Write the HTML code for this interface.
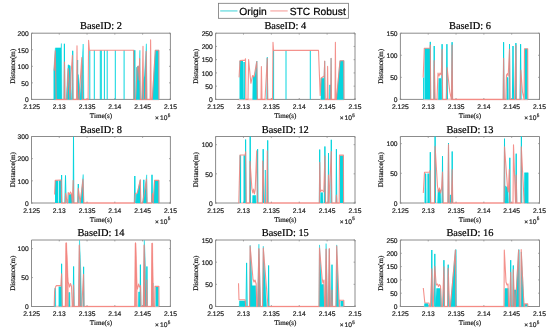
<!DOCTYPE html>
<html><head><meta charset="utf-8"><style>
html,body{margin:0;padding:0;background:#fff;width:550px;height:333px;overflow:hidden}
svg{display:block;text-rendering:geometricPrecision}
.tl{font-family:"Liberation Sans",Arial,sans-serif;font-size:6.7px;fill:#1a1a1a;stroke:#1a1a1a;stroke-width:0.2px}
.sup{font-size:5px}
.lb{font-family:"Liberation Serif","Times New Roman",serif;font-size:7.1px;fill:#1a1a1a;stroke:#1a1a1a;stroke-width:0.2px}
.tt{font-family:"Liberation Serif","Times New Roman",serif;font-size:10.4px;fill:#000;stroke:#000;stroke-width:0.2px}
.lg{font-family:"Liberation Sans",Arial,sans-serif;font-size:10.3px;fill:#000;stroke:#000;stroke-width:0.2px}
</style></head><body>
<svg width="550" height="333" viewBox="0 0 550 333">
<path d="M31.5,99.4V33.2H170.4V99.4M31.5,99.4H54.1M88.6,99.4H133.6M159,99.4H170.4" fill="none" stroke="#8c8c8c" stroke-width="1.0" stroke-linecap="square"/>
<path d="M54.1,99.4H88.6" stroke="#f2837d" stroke-opacity="0.5" stroke-width="1.7"/>
<path d="M133.6,99.4H159" stroke="#f2837d" stroke-opacity="0.5" stroke-width="1.7"/>
<text x="28.7" y="102.2" class="tl" text-anchor="end">0</text>
<text x="28.7" y="85.65" class="tl" text-anchor="end">50</text>
<text x="28.7" y="69.1" class="tl" text-anchor="end">100</text>
<text x="28.7" y="52.55" class="tl" text-anchor="end">150</text>
<text x="28.7" y="36" class="tl" text-anchor="end">200</text>
<path d="M31.5,99.4v-1.4M31.5,33.2v1.4M59.28,99.4v-1.4M59.28,33.2v1.4M87.06,99.4v-1.4M87.06,33.2v1.4M114.84,99.4v-1.4M114.84,33.2v1.4M142.62,99.4v-1.4M142.62,33.2v1.4M170.4,99.4v-1.4M170.4,33.2v1.4M31.5,99.4h1.4M170.4,99.4h-1.4M31.5,82.85h1.4M170.4,82.85h-1.4M31.5,66.3h1.4M170.4,66.3h-1.4M31.5,49.75h1.4M170.4,49.75h-1.4M31.5,33.2h1.4M170.4,33.2h-1.4" stroke="#8c8c8c" stroke-width="0.8" fill="none"/>
<polygon points="53.8,99.5 53.8,70.6 55.4,47.9 61.2,47.9 61.4,43.5 61.9,99.5" fill="#06d5de" stroke="#06d5de" stroke-width="0.5" opacity="1"/>
<polyline points="64.05,99.4 64.4,43.8 64.75,99.4" fill="none" stroke="#06d5de" stroke-width="1.0" stroke-linejoin="round"/>
<polygon points="66.3,99.5 68.1,64.8 70.2,65.8 71.5,99.5" fill="#06d5de" stroke="#06d5de" stroke-width="0.5" opacity="1"/>
<polygon points="77.3,99.5 78.2,74.5 80.8,99.5" fill="#06d5de" stroke="#06d5de" stroke-width="0.5" opacity="1"/>
<polyline points="72.35,99.4 72.7,50.8 73.05,99.4" fill="none" stroke="#06d5de" stroke-width="1.0" stroke-linejoin="round"/>
<polyline points="77.25,99.4 77.6,60 77.95,99.4" fill="none" stroke="#06d5de" stroke-width="1.0" stroke-linejoin="round"/>
<polygon points="80.2,99.5 83.2,44 83.9,99.5" fill="#06d5de" stroke="#06d5de" stroke-width="0.5" opacity="1"/>
<path d="M89.8,99.4V50.3M94.3,99.4V50.3M100.3,99.4V50.3M101.3,99.4V50.3M104.4,99.4V50.3M107.2,99.4V50.3M115.3,99.4V50.3M124.1,99.4V50.3" stroke="#06d5de" stroke-width="1.0" fill="none"/>
<polygon points="133.6,99.5 133.6,50.4 135.2,50.4 135.2,99.5" fill="#06d5de" stroke="#06d5de" stroke-width="0.5" opacity="1"/>
<polygon points="136,99.5 136.5,67.5 138,66 139.5,67 139.9,50.3 140.3,99.5" fill="#06d5de" stroke="#06d5de" stroke-width="0.5" opacity="1"/>
<polygon points="141.8,99.5 142.5,85 143.5,80 144.5,75 146.4,43.8 146.9,99.5" fill="#06d5de" stroke="#06d5de" stroke-width="0.5" opacity="1"/>
<polygon points="152.3,99.5 155.3,50.3 158.8,50.3 158.8,99.5" fill="#06d5de" stroke="#06d5de" stroke-width="0.5" opacity="1"/>
<polyline points="54.2,70.6 55.3,50.8 56.2,99.5 64.1,99.5 64.5,62 65,99.5 67,99.5 68.2,68.5 70,99.5 71.2,72 72.4,55.4 72.9,99.5 76.5,99.5 77,45.8 77.6,99.5 79,99.5 80.3,80 81.8,57.6 82.3,99.5 88.1,99.5 88.6,40.2 89.4,50.3 133.6,50.3 133.9,99.5 135.5,99.5 137.2,69 138.2,66 139.2,80 139.6,58.5 140.3,99.5 142,99.5 143,46.3 143.6,99.5 145.5,99.5 146.2,51.3 146.8,99.5 150.1,99.5 150.6,39.9 151.2,99.5 152.3,99.5 155.3,50.2 158.8,50.2 159,99.5" fill="none" stroke="#f2837d" stroke-width="1.1" stroke-linejoin="round" stroke-opacity="0.88"/>
<text x="31.5" y="109" class="tl" text-anchor="middle">2.125</text>
<text x="59.28" y="109" class="tl" text-anchor="middle">2.13</text>
<text x="87.06" y="109" class="tl" text-anchor="middle">2.135</text>
<text x="114.84" y="109" class="tl" text-anchor="middle">2.14</text>
<text x="142.62" y="109" class="tl" text-anchor="middle">2.145</text>
<text x="170.4" y="109" class="tl" text-anchor="middle">2.15</text>
<text x="100.95" y="118" class="lb" text-anchor="middle">Time(s)</text>
<text x="155.1" y="120.2" class="tl" style="font-size:6.5px">×</text>
<text x="160" y="119.9" class="tl">10</text>
<text x="167.7" y="116.7" class="tl" style="font-size:4.6px">5</text>
<text x="100.95" y="29.4" class="tt" text-anchor="middle">BaseID: 2</text>
<text transform="translate(14.9,66.3) rotate(-90)" class="lb" text-anchor="middle">Distance(m)</text>
<path d="M215.6,99.4V33.2H355V99.4M215.6,99.4H238.6M272.8,99.4H320M344,99.4H355" fill="none" stroke="#8c8c8c" stroke-width="1.0" stroke-linecap="square"/>
<path d="M238.6,99.4H272.8" stroke="#f2837d" stroke-opacity="0.5" stroke-width="1.7"/>
<path d="M320,99.4H344" stroke="#f2837d" stroke-opacity="0.5" stroke-width="1.7"/>
<text x="212.8" y="102.2" class="tl" text-anchor="end">0</text>
<text x="212.8" y="88.96" class="tl" text-anchor="end">50</text>
<text x="212.8" y="75.72" class="tl" text-anchor="end">100</text>
<text x="212.8" y="62.48" class="tl" text-anchor="end">150</text>
<text x="212.8" y="49.24" class="tl" text-anchor="end">200</text>
<text x="212.8" y="36" class="tl" text-anchor="end">250</text>
<path d="M215.6,99.4v-1.4M215.6,33.2v1.4M243.48,99.4v-1.4M243.48,33.2v1.4M271.36,99.4v-1.4M271.36,33.2v1.4M299.24,99.4v-1.4M299.24,33.2v1.4M327.12,99.4v-1.4M327.12,33.2v1.4M355,99.4v-1.4M355,33.2v1.4M215.6,99.4h1.4M355,99.4h-1.4M215.6,86.16h1.4M355,86.16h-1.4M215.6,72.92h1.4M355,72.92h-1.4M215.6,59.68h1.4M355,59.68h-1.4M215.6,46.44h1.4M355,46.44h-1.4M215.6,33.2h1.4M355,33.2h-1.4" stroke="#8c8c8c" stroke-width="0.8" fill="none"/>
<rect x="239.5" y="61" width="3.5" height="38.4" fill="#06d5de"/>
<polyline points="243.75,99.4 244.1,62 244.45,99.4" fill="none" stroke="#06d5de" stroke-width="1.0" stroke-linejoin="round"/>
<polygon points="252.7,99.5 253,77 255,76 256.5,62 257,61 257.4,99.5" fill="#06d5de" stroke="#06d5de" stroke-width="0.5" opacity="1"/>
<polyline points="266.95,99.4 267.3,57.4 267.65,99.4" fill="none" stroke="#06d5de" stroke-width="1.0" stroke-linejoin="round"/>
<path d="M273.6,99.4V50.4M286,99.4V50.4M310.3,99.4V50.4" stroke="#06d5de" stroke-width="1.0" fill="none"/>
<polygon points="321,99.5 321,78.2 324,78.2 324.7,61.1 325.1,99.5" fill="#06d5de" stroke="#06d5de" stroke-width="0.5" opacity="1"/>
<polygon points="329.3,99.5 329.5,85 330.9,85 331.1,58.2 331.4,99.5" fill="#06d5de" stroke="#06d5de" stroke-width="0.5" opacity="1"/>
<polygon points="336.5,99.5 340,60.9 343.8,60.7 343.8,99.5" fill="#06d5de" stroke="#06d5de" stroke-width="0.5" opacity="1"/>
<polyline points="239.1,77.4 240,60.5 245,60.1 245.5,58.7 245.9,99.5 248,99.5 248.6,59.6 250.9,83.3 252.6,75.5 254,77 256.8,61.5 257.3,99.5 261,99.5 261.4,66.5 262,99.5 265,99.5 267.3,58.3 267.7,99.5 272.5,99.5 273,42.2 273.5,50.4 318.5,50.4 320.2,95.5 321.2,78 324.2,76 324.7,61.1 325.2,99.5 327.2,99.5 327.6,66.4 328,99.5 330.7,99.5 331.1,58.2 331.5,99.5 335,99.5 335.4,42.3 335.8,99.5 336.4,99.5 340,60.7 343.8,60.7 344,99.5" fill="none" stroke="#f2837d" stroke-width="1.1" stroke-linejoin="round" stroke-opacity="0.88"/>
<text x="215.6" y="109" class="tl" text-anchor="middle">2.125</text>
<text x="243.48" y="109" class="tl" text-anchor="middle">2.13</text>
<text x="271.36" y="109" class="tl" text-anchor="middle">2.135</text>
<text x="299.24" y="109" class="tl" text-anchor="middle">2.14</text>
<text x="327.12" y="109" class="tl" text-anchor="middle">2.145</text>
<text x="355" y="109" class="tl" text-anchor="middle">2.15</text>
<text x="285.3" y="118" class="lb" text-anchor="middle">Time(s)</text>
<text x="339.7" y="120.2" class="tl" style="font-size:6.5px">×</text>
<text x="344.6" y="119.9" class="tl">10</text>
<text x="352.3" y="116.7" class="tl" style="font-size:4.6px">5</text>
<text x="285.3" y="29.4" class="tt" text-anchor="middle">BaseID: 4</text>
<text transform="translate(198.3,66.3) rotate(-90)" class="lb" text-anchor="middle">Distance(m)</text>
<path d="M400.4,99.4V33.2H539.5V99.4M400.4,99.4H423M528,99.4H539.5" fill="none" stroke="#8c8c8c" stroke-width="1.0" stroke-linecap="square"/>
<path d="M423,99.4H528" stroke="#f2837d" stroke-opacity="0.5" stroke-width="1.7"/>
<text x="397.6" y="102.2" class="tl" text-anchor="end">0</text>
<text x="397.6" y="80.13" class="tl" text-anchor="end">50</text>
<text x="397.6" y="58.07" class="tl" text-anchor="end">100</text>
<text x="397.6" y="36" class="tl" text-anchor="end">150</text>
<path d="M400.4,99.4v-1.4M400.4,33.2v1.4M428.22,99.4v-1.4M428.22,33.2v1.4M456.04,99.4v-1.4M456.04,33.2v1.4M483.86,99.4v-1.4M483.86,33.2v1.4M511.68,99.4v-1.4M511.68,33.2v1.4M539.5,99.4v-1.4M539.5,33.2v1.4M400.4,99.4h1.4M539.5,99.4h-1.4M400.4,77.33h1.4M539.5,77.33h-1.4M400.4,55.27h1.4M539.5,55.27h-1.4M400.4,33.2h1.4M539.5,33.2h-1.4" stroke="#8c8c8c" stroke-width="0.8" fill="none"/>
<rect x="424.5" y="48.3" width="5.5" height="51.1" fill="#06d5de"/>
<path d="M423.6,99.4V77.5" stroke="#06d5de" stroke-width="1.0" fill="none"/>
<polyline points="429.95,99.4 430.3,41.9 430.65,99.4" fill="none" stroke="#06d5de" stroke-width="1.0" stroke-linejoin="round"/>
<polyline points="433.85,99.4 434.2,46 434.55,99.4" fill="none" stroke="#06d5de" stroke-width="1.0" stroke-linejoin="round"/>
<polygon points="438.4,99.5 438.8,78.4 441,78.4 441.3,99.5" fill="#06d5de" stroke="#06d5de" stroke-width="0.5" opacity="1"/>
<polyline points="441.75,99.4 442.1,44.2 442.45,99.4" fill="none" stroke="#06d5de" stroke-width="1.0" stroke-linejoin="round"/>
<polyline points="446.3,99.4 446.9,44.2 447.5,99.4" fill="none" stroke="#06d5de" stroke-width="1.0" stroke-linejoin="round"/>
<polyline points="451.75,99.4 452.1,42.2 452.45,99.4" fill="none" stroke="#06d5de" stroke-width="1.0" stroke-linejoin="round"/>
<polyline points="503.25,99.4 503.6,42.2 503.95,99.4" fill="none" stroke="#06d5de" stroke-width="1.0" stroke-linejoin="round"/>
<polygon points="506.8,99.5 507,77.5 508,77.5 508.2,99.5" fill="#06d5de" stroke="#06d5de" stroke-width="0.5" opacity="1"/>
<polyline points="509.15,99.4 509.5,44 509.85,99.4" fill="none" stroke="#06d5de" stroke-width="1.0" stroke-linejoin="round"/>
<polyline points="512.4,99.4 513,46 513.6,99.4" fill="none" stroke="#06d5de" stroke-width="1.0" stroke-linejoin="round"/>
<polyline points="515.55,99.4 515.9,43.1 516.25,99.4" fill="none" stroke="#06d5de" stroke-width="1.0" stroke-linejoin="round"/>
<polyline points="520.1,99.4 520.6,44.2 521.1,99.4" fill="none" stroke="#06d5de" stroke-width="1.0" stroke-linejoin="round"/>
<rect x="524.6" y="48.7" width="3.1" height="50.7" fill="#06d5de"/>
<polyline points="423.2,77.5 424.3,48.3 430,48.3 430.3,45.1 430.7,99.5 433.8,99.5 434.2,60.5 435.2,99.5 437,99.5 438,73 439,76 440,73 441.3,75 442.1,49.2 442.6,99.5 446.4,99.5 447.1,67.5 449.8,92 451.4,99.5 452.1,45.1 452.6,99.5 503.2,99.5 503.6,58.3 504.2,99.5 505.8,99.5 506.5,75 507.5,73.5 508.2,76 509.5,49.2 510,99.5 514.6,99.5 515.9,45.5 516.4,99.5 520.2,99.5 520.8,70 522.5,92 524.1,99.5 524.5,48.7 527.7,48.7 527.9,99.5" fill="none" stroke="#f2837d" stroke-width="1.1" stroke-linejoin="round" stroke-opacity="0.88"/>
<text x="400.4" y="109" class="tl" text-anchor="middle">2.125</text>
<text x="428.22" y="109" class="tl" text-anchor="middle">2.13</text>
<text x="456.04" y="109" class="tl" text-anchor="middle">2.135</text>
<text x="483.86" y="109" class="tl" text-anchor="middle">2.14</text>
<text x="511.68" y="109" class="tl" text-anchor="middle">2.145</text>
<text x="539.5" y="109" class="tl" text-anchor="middle">2.15</text>
<text x="469.95" y="118" class="lb" text-anchor="middle">Time(s)</text>
<text x="524.2" y="120.2" class="tl" style="font-size:6.5px">×</text>
<text x="529.1" y="119.9" class="tl">10</text>
<text x="536.8" y="116.7" class="tl" style="font-size:4.6px">5</text>
<text x="469.95" y="29.4" class="tt" text-anchor="middle">BaseID: 6</text>
<text transform="translate(383.1,66.3) rotate(-90)" class="lb" text-anchor="middle">Distance(m)</text>
<path d="M31.5,203V136.5H170.4V203M31.5,203H54.3M159,203H170.4" fill="none" stroke="#8c8c8c" stroke-width="1.0" stroke-linecap="square"/>
<path d="M54.3,203H159" stroke="#f2837d" stroke-opacity="0.5" stroke-width="1.7"/>
<text x="28.7" y="205.8" class="tl" text-anchor="end">0</text>
<text x="28.7" y="183.63" class="tl" text-anchor="end">100</text>
<text x="28.7" y="161.47" class="tl" text-anchor="end">200</text>
<text x="28.7" y="139.3" class="tl" text-anchor="end">300</text>
<path d="M31.5,203v-1.4M31.5,136.5v1.4M59.28,203v-1.4M59.28,136.5v1.4M87.06,203v-1.4M87.06,136.5v1.4M114.84,203v-1.4M114.84,136.5v1.4M142.62,203v-1.4M142.62,136.5v1.4M170.4,203v-1.4M170.4,136.5v1.4M31.5,203h1.4M170.4,203h-1.4M31.5,180.83h1.4M170.4,180.83h-1.4M31.5,158.67h1.4M170.4,158.67h-1.4M31.5,136.5h1.4M170.4,136.5h-1.4" stroke="#8c8c8c" stroke-width="0.8" fill="none"/>
<rect x="55" y="180.5" width="3.2" height="22.5" fill="#06d5de"/>
<rect x="58.9" y="180.5" width="2.3" height="22.5" fill="#06d5de"/>
<polyline points="61.25,203 61.6,175 61.95,203" fill="none" stroke="#06d5de" stroke-width="1.0" stroke-linejoin="round"/>
<polyline points="64.9,203 65.5,175.5 66.1,203" fill="none" stroke="#06d5de" stroke-width="1.0" stroke-linejoin="round"/>
<polygon points="68.5,203 68.7,194.5 72,194.5 72.2,203" fill="#06d5de" stroke="#06d5de" stroke-width="0.5" opacity="1"/>
<polyline points="73.15,203 73.5,136.8 73.85,203" fill="none" stroke="#06d5de" stroke-width="1.0" stroke-linejoin="round"/>
<polyline points="77.7,203 78.3,184 78.9,203" fill="none" stroke="#06d5de" stroke-width="1.0" stroke-linejoin="round"/>
<polygon points="80.4,203 83.2,174.5 83.8,203" fill="#06d5de" stroke="#06d5de" stroke-width="0.5" opacity="1"/>
<polyline points="134.3,203 134.8,176 135.3,203" fill="none" stroke="#06d5de" stroke-width="1.0" stroke-linejoin="round"/>
<polygon points="136,203 136.2,194.5 137.3,193.5 140.3,179.8 140.7,203" fill="#06d5de" stroke="#06d5de" stroke-width="0.5" opacity="1"/>
<polyline points="143.3,203 143.8,179.8 144.3,203" fill="none" stroke="#06d5de" stroke-width="1.0" stroke-linejoin="round"/>
<polygon points="143.6,203 146.7,174.8 147.2,203" fill="#06d5de" stroke="#06d5de" stroke-width="0.5" opacity="1"/>
<polyline points="151.5,203 152,174.8 152.5,203" fill="none" stroke="#06d5de" stroke-width="1.0" stroke-linejoin="round"/>
<polygon points="153.4,203 154.6,180.4 158.8,180.4 158.8,203" fill="#06d5de" stroke="#06d5de" stroke-width="0.5" opacity="1"/>
<polyline points="54.6,194.5 55.2,180.4 61.2,180 61.6,203 65.3,203 65.6,193.3 67.2,203 67.6,203 68.2,192.5 69.5,194.5 70.5,192 71.4,193.5 72.2,203 73.2,180.4 73.7,203 77.8,203 78.3,188.4 80.2,203 83,179.2 83.7,203 134.5,203 135.3,193.5 137.3,193 140.3,179.8 140.8,203 142.6,203 146.5,179.2 147,203 151.6,203 152.4,193.3 153.2,203 154.6,180.4 158.8,180.4 159,203" fill="none" stroke="#f2837d" stroke-width="1.1" stroke-linejoin="round" stroke-opacity="0.88"/>
<text x="31.5" y="212.6" class="tl" text-anchor="middle">2.125</text>
<text x="59.28" y="212.6" class="tl" text-anchor="middle">2.13</text>
<text x="87.06" y="212.6" class="tl" text-anchor="middle">2.135</text>
<text x="114.84" y="212.6" class="tl" text-anchor="middle">2.14</text>
<text x="142.62" y="212.6" class="tl" text-anchor="middle">2.145</text>
<text x="170.4" y="212.6" class="tl" text-anchor="middle">2.15</text>
<text x="100.95" y="221.6" class="lb" text-anchor="middle">Time(s)</text>
<text x="155.1" y="223.8" class="tl" style="font-size:6.5px">×</text>
<text x="160" y="223.5" class="tl">10</text>
<text x="167.7" y="220.3" class="tl" style="font-size:4.6px">5</text>
<text x="100.95" y="132.7" class="tt" text-anchor="middle">BaseID: 8</text>
<text transform="translate(14.9,169.75) rotate(-90)" class="lb" text-anchor="middle">Distance(m)</text>
<path d="M215.6,203V136.5H355V203M215.6,203H238.8M343.6,203H355" fill="none" stroke="#8c8c8c" stroke-width="1.0" stroke-linecap="square"/>
<path d="M238.8,203H343.6" stroke="#f2837d" stroke-opacity="0.5" stroke-width="1.7"/>
<text x="212.8" y="205.8" class="tl" text-anchor="end">0</text>
<text x="212.8" y="176.63" class="tl" text-anchor="end">50</text>
<text x="212.8" y="147.47" class="tl" text-anchor="end">100</text>
<path d="M215.6,203v-1.4M215.6,136.5v1.4M243.48,203v-1.4M243.48,136.5v1.4M271.36,203v-1.4M271.36,136.5v1.4M299.24,203v-1.4M299.24,136.5v1.4M327.12,203v-1.4M327.12,136.5v1.4M355,203v-1.4M355,136.5v1.4M215.6,203h1.4M355,203h-1.4M215.6,173.83h1.4M355,173.83h-1.4M215.6,144.67h1.4M355,144.67h-1.4" stroke="#8c8c8c" stroke-width="0.8" fill="none"/>
<rect x="239.6" y="155.3" width="1.5" height="47.7" fill="#06d5de"/>
<rect x="243.5" y="155.3" width="1.7" height="47.7" fill="#06d5de"/>
<polyline points="245.25,203 245.6,139.6 245.95,203" fill="none" stroke="#06d5de" stroke-width="1.0" stroke-linejoin="round"/>
<polyline points="249.85,203 250.2,136.6 250.55,203" fill="none" stroke="#06d5de" stroke-width="1.0" stroke-linejoin="round"/>
<polygon points="252.5,203 252.7,195.5 255.8,195.5 256,203" fill="#06d5de" stroke="#06d5de" stroke-width="0.5" opacity="1"/>
<polyline points="257.25,203 257.6,149.2 257.95,203" fill="none" stroke="#06d5de" stroke-width="1.0" stroke-linejoin="round"/>
<polyline points="262.85,203 263.2,149.2 263.55,203" fill="none" stroke="#06d5de" stroke-width="1.0" stroke-linejoin="round"/>
<path d="M265.3,203V170" stroke="#06d5de" stroke-width="1.0" fill="none"/>
<polyline points="267.35,203 267.7,140.4 268.05,203" fill="none" stroke="#06d5de" stroke-width="1.0" stroke-linejoin="round"/>
<polyline points="319.35,203 319.7,149.6 320.05,203" fill="none" stroke="#06d5de" stroke-width="1.0" stroke-linejoin="round"/>
<polygon points="320.8,203 321,192.7 322.8,192.7 323,203" fill="#06d5de" stroke="#06d5de" stroke-width="0.5" opacity="1"/>
<polyline points="324.55,203 324.9,146.5 325.25,203" fill="none" stroke="#06d5de" stroke-width="1.0" stroke-linejoin="round"/>
<polyline points="328.15,203 328.5,153.1 328.85,203" fill="none" stroke="#06d5de" stroke-width="1.0" stroke-linejoin="round"/>
<polyline points="330.95,203 331.3,139.8 331.65,203" fill="none" stroke="#06d5de" stroke-width="1.0" stroke-linejoin="round"/>
<polyline points="336.05,203 336.4,149.2 336.75,203" fill="none" stroke="#06d5de" stroke-width="1.0" stroke-linejoin="round"/>
<rect x="340" y="155.6" width="3.5" height="47.4" fill="#06d5de"/>
<polyline points="238.8,203 240,155 245.2,155 245.6,151.8 246.2,203 249.7,203 250,161.3 251.9,188.6 252.8,193 253.6,189 254.4,194 255.2,190 256.7,150.7 257.4,203 262.4,203 262.8,161 264.6,203 266.8,203 267.3,150.7 267.8,203 319.4,203 319.7,162.4 320.4,191.6 322,190 323.8,192 324.9,156 325.4,203 328.1,203 328.5,175 329,203 331.3,151.5 331.8,203 336,203 336.4,195 337,203 339.2,203 339.5,155.1 343.4,155.1 343.6,203" fill="none" stroke="#f2837d" stroke-width="1.1" stroke-linejoin="round" stroke-opacity="0.88"/>
<text x="215.6" y="212.6" class="tl" text-anchor="middle">2.125</text>
<text x="243.48" y="212.6" class="tl" text-anchor="middle">2.13</text>
<text x="271.36" y="212.6" class="tl" text-anchor="middle">2.135</text>
<text x="299.24" y="212.6" class="tl" text-anchor="middle">2.14</text>
<text x="327.12" y="212.6" class="tl" text-anchor="middle">2.145</text>
<text x="355" y="212.6" class="tl" text-anchor="middle">2.15</text>
<text x="285.3" y="221.6" class="lb" text-anchor="middle">Time(s)</text>
<text x="339.7" y="223.8" class="tl" style="font-size:6.5px">×</text>
<text x="344.6" y="223.5" class="tl">10</text>
<text x="352.3" y="220.3" class="tl" style="font-size:4.6px">5</text>
<text x="285.3" y="132.7" class="tt" text-anchor="middle">BaseID: 12</text>
<text transform="translate(198.3,169.75) rotate(-90)" class="lb" text-anchor="middle">Distance(m)</text>
<path d="M400.4,203V136.5H539.5V203M400.4,203H423.3M527.9,203H539.5" fill="none" stroke="#8c8c8c" stroke-width="1.0" stroke-linecap="square"/>
<path d="M423.3,203H527.9" stroke="#f2837d" stroke-opacity="0.5" stroke-width="1.7"/>
<text x="397.6" y="205.8" class="tl" text-anchor="end">0</text>
<text x="397.6" y="176.11" class="tl" text-anchor="end">50</text>
<text x="397.6" y="146.43" class="tl" text-anchor="end">100</text>
<path d="M400.4,203v-1.4M400.4,136.5v1.4M428.22,203v-1.4M428.22,136.5v1.4M456.04,203v-1.4M456.04,136.5v1.4M483.86,203v-1.4M483.86,136.5v1.4M511.68,203v-1.4M511.68,136.5v1.4M539.5,203v-1.4M539.5,136.5v1.4M400.4,203h1.4M539.5,203h-1.4M400.4,173.31h1.4M539.5,173.31h-1.4M400.4,143.62h1.4M539.5,143.62h-1.4" stroke="#8c8c8c" stroke-width="0.8" fill="none"/>
<polygon points="424.8,203 425,173.8 426,173.8 426.2,203" fill="#06d5de" stroke="#06d5de" stroke-width="0.5" opacity="1"/>
<rect x="427.4" y="173.5" width="2.2" height="29.5" fill="#06d5de"/>
<polyline points="429.95,203 430.3,152.2 430.65,203" fill="none" stroke="#06d5de" stroke-width="1.0" stroke-linejoin="round"/>
<polyline points="434.6,203 435.1,136.6 435.6,203" fill="none" stroke="#06d5de" stroke-width="1.0" stroke-linejoin="round"/>
<polygon points="437.6,203 438,190 440.5,190 441,203" fill="#06d5de" stroke="#06d5de" stroke-width="0.5" opacity="1"/>
<polyline points="442.15,203 442.5,156.2 442.85,203" fill="none" stroke="#06d5de" stroke-width="1.0" stroke-linejoin="round"/>
<polyline points="448.15,203 448.5,143.1 448.85,203" fill="none" stroke="#06d5de" stroke-width="1.0" stroke-linejoin="round"/>
<polygon points="450,203 450.2,195 451.6,195 451.8,203" fill="#06d5de" stroke="#06d5de" stroke-width="0.5" opacity="1"/>
<polyline points="451.85,203 452.2,151.5 452.55,203" fill="none" stroke="#06d5de" stroke-width="1.0" stroke-linejoin="round"/>
<polyline points="504.15,203 504.5,138.7 504.85,203" fill="none" stroke="#06d5de" stroke-width="1.0" stroke-linejoin="round"/>
<polygon points="505,203 505.3,186 508,188 508.4,203" fill="#06d5de" stroke="#06d5de" stroke-width="0.5" opacity="1"/>
<polyline points="509.45,203 509.8,157.8 510.15,203" fill="none" stroke="#06d5de" stroke-width="1.0" stroke-linejoin="round"/>
<polyline points="515.7,203 516.2,153.7 516.7,203" fill="none" stroke="#06d5de" stroke-width="1.0" stroke-linejoin="round"/>
<polyline points="521.05,203 521.4,136.6 521.75,203" fill="none" stroke="#06d5de" stroke-width="1.0" stroke-linejoin="round"/>
<polygon points="524.2,203 524.5,172.8 528.2,172.8 528.2,203" fill="#06d5de" stroke="#06d5de" stroke-width="0.5" opacity="1"/>
<polyline points="423.3,193 424.5,172.3 429.5,172.3 430,170.5 430.6,203 434.5,203 435.1,146.2 437.5,186.5 438.5,192 439.5,188 440.5,193 441.5,189 442.5,172 443.2,203 447.8,203 448.5,144.6 449.2,203 451.4,203 452.2,169.5 452.8,203 504.1,203 504.5,146.9 507.6,188.6 508.3,192 509.3,169.5 509.8,203 513,203 513.5,144.8 515,188 515.5,203 515.8,203 516.2,175 516.8,203 520.8,203 521.3,146.7 524.2,203" fill="none" stroke="#f2837d" stroke-width="1.1" stroke-linejoin="round" stroke-opacity="0.88"/>
<text x="400.4" y="212.6" class="tl" text-anchor="middle">2.125</text>
<text x="428.22" y="212.6" class="tl" text-anchor="middle">2.13</text>
<text x="456.04" y="212.6" class="tl" text-anchor="middle">2.135</text>
<text x="483.86" y="212.6" class="tl" text-anchor="middle">2.14</text>
<text x="511.68" y="212.6" class="tl" text-anchor="middle">2.145</text>
<text x="539.5" y="212.6" class="tl" text-anchor="middle">2.15</text>
<text x="469.95" y="221.6" class="lb" text-anchor="middle">Time(s)</text>
<text x="524.2" y="223.8" class="tl" style="font-size:6.5px">×</text>
<text x="529.1" y="223.5" class="tl">10</text>
<text x="536.8" y="220.3" class="tl" style="font-size:4.6px">5</text>
<text x="469.95" y="132.7" class="tt" text-anchor="middle">BaseID: 13</text>
<text transform="translate(383.1,169.75) rotate(-90)" class="lb" text-anchor="middle">Distance(m)</text>
<path d="M31.5,306.5V240H170.4V306.5M31.5,306.5H54.2M159.2,306.5H170.4" fill="none" stroke="#8c8c8c" stroke-width="1.0" stroke-linecap="square"/>
<path d="M54.2,306.5H159.2" stroke="#f2837d" stroke-opacity="0.5" stroke-width="1.7"/>
<text x="28.7" y="309.3" class="tl" text-anchor="end">0</text>
<text x="28.7" y="280.39" class="tl" text-anchor="end">50</text>
<text x="28.7" y="251.47" class="tl" text-anchor="end">100</text>
<path d="M31.5,306.5v-1.4M31.5,240v1.4M59.28,306.5v-1.4M59.28,240v1.4M87.06,306.5v-1.4M87.06,240v1.4M114.84,306.5v-1.4M114.84,240v1.4M142.62,306.5v-1.4M142.62,240v1.4M170.4,306.5v-1.4M170.4,240v1.4M31.5,306.5h1.4M170.4,306.5h-1.4M31.5,277.59h1.4M170.4,277.59h-1.4M31.5,248.67h1.4M170.4,248.67h-1.4" stroke="#8c8c8c" stroke-width="0.8" fill="none"/>
<polygon points="54.6,306.5 54.8,288.3 55.5,288.3 55.7,306.5" fill="#06d5de" stroke="#06d5de" stroke-width="0.5" opacity="1"/>
<rect x="58.6" y="286.5" width="2.6" height="20" fill="#06d5de"/>
<polyline points="61.25,306.5 61.6,263.8 61.95,306.5" fill="none" stroke="#06d5de" stroke-width="1.0" stroke-linejoin="round"/>
<polygon points="68.6,306.5 68.8,292.5 69.8,292.5 70,306.5" fill="#06d5de" stroke="#06d5de" stroke-width="0.5" opacity="1"/>
<polyline points="73.1,306.5 73.6,266.5 74.1,306.5" fill="none" stroke="#06d5de" stroke-width="1.0" stroke-linejoin="round"/>
<polygon points="78.4,306.5 79.5,240.3 80.2,255 81.6,306.5" fill="#06d5de" stroke="#06d5de" stroke-width="0.5" opacity="1"/>
<polyline points="83.25,306.5 83.6,266.8 83.95,306.5" fill="none" stroke="#06d5de" stroke-width="1.0" stroke-linejoin="round"/>
<polygon points="138.2,306.5 138.6,292 139.8,292 140,306.5" fill="#06d5de" stroke="#06d5de" stroke-width="0.5" opacity="1"/>
<polyline points="140.05,306.5 140.4,264.7 140.75,306.5" fill="none" stroke="#06d5de" stroke-width="1.0" stroke-linejoin="round"/>
<polygon points="143.2,306.5 144.3,240.3 145,255 146.4,306.5" fill="#06d5de" stroke="#06d5de" stroke-width="0.5" opacity="1"/>
<polyline points="146.55,306.5 146.9,266.5 147.25,306.5" fill="none" stroke="#06d5de" stroke-width="1.0" stroke-linejoin="round"/>
<path d="M152.9,306.5V283" stroke="#06d5de" stroke-width="1.0" fill="none"/>
<rect x="155.5" y="286.8" width="3.1" height="19.7" fill="#06d5de"/>
<polygon points="65.4,306.5 65.8,243 66.6,243 68.3,282 68.3,306.5" fill="#f2837d" stroke="#f2837d" stroke-width="0.5" opacity="0.8"/>
<polygon points="78.9,306.5 79.3,245.5 80.8,270 81,306.5" fill="#f2837d" stroke="#f2837d" stroke-width="0.5" opacity="0.45"/>
<polygon points="134.8,306.5 135.2,243.2 135.9,243.2 137.2,284 137.2,306.5" fill="#f2837d" stroke="#f2837d" stroke-width="0.5" opacity="0.8"/>
<polygon points="143.9,306.5 144.2,245.5 145.4,268 145.6,306.5" fill="#f2837d" stroke="#f2837d" stroke-width="0.5" opacity="0.45"/>
<polygon points="151.3,306.5 151.8,243.2 152.6,243.2 153.4,306.5" fill="#f2837d" stroke="#f2837d" stroke-width="0.5" opacity="0.8"/>
<polyline points="54.2,306.5 54.6,292 55.5,287 56.4,285.6 60.9,285.6 61.6,273.8 62.3,306.5 65.4,306.5 66.2,242.7 67.7,282 68.6,283.4 69.5,287 70.5,283.5 71.5,286.5 72.3,306.5 73.2,306.5 73.5,285 74,306.5 78.6,306.5 79.3,245 79.7,306.5 81.8,306.5 83.5,274.3 84,306.5 134.8,306.5 135.5,242.9 136.5,285 137.5,289 138.5,284 139.5,287 140.5,285.6 141,306.5 143.4,306.5 144.1,245 144.5,306.5 146.3,306.5 146.8,280 147.2,306.5 151.5,306.5 152.1,243.2 153.3,306.5 154.6,306.5 155,286.4 158.9,286.4 159.1,306.5" fill="none" stroke="#f2837d" stroke-width="1.1" stroke-linejoin="round" stroke-opacity="0.88"/>
<text x="31.5" y="316.1" class="tl" text-anchor="middle">2.125</text>
<text x="59.28" y="316.1" class="tl" text-anchor="middle">2.13</text>
<text x="87.06" y="316.1" class="tl" text-anchor="middle">2.135</text>
<text x="114.84" y="316.1" class="tl" text-anchor="middle">2.14</text>
<text x="142.62" y="316.1" class="tl" text-anchor="middle">2.145</text>
<text x="170.4" y="316.1" class="tl" text-anchor="middle">2.15</text>
<text x="100.95" y="325.1" class="lb" text-anchor="middle">Time(s)</text>
<text x="155.1" y="327.3" class="tl" style="font-size:6.5px">×</text>
<text x="160" y="327" class="tl">10</text>
<text x="167.7" y="323.8" class="tl" style="font-size:4.6px">5</text>
<text x="100.95" y="236.2" class="tt" text-anchor="middle">BaseID: 14</text>
<text transform="translate(14.9,273.25) rotate(-90)" class="lb" text-anchor="middle">Distance(m)</text>
<path d="M215.6,306.5V240H355V306.5M215.6,306.5H238.9M343.8,306.5H355" fill="none" stroke="#8c8c8c" stroke-width="1.0" stroke-linecap="square"/>
<path d="M238.9,306.5H343.8" stroke="#f2837d" stroke-opacity="0.5" stroke-width="1.7"/>
<text x="212.8" y="309.3" class="tl" text-anchor="end">0</text>
<text x="212.8" y="287.13" class="tl" text-anchor="end">50</text>
<text x="212.8" y="264.97" class="tl" text-anchor="end">100</text>
<text x="212.8" y="242.8" class="tl" text-anchor="end">150</text>
<path d="M215.6,306.5v-1.4M215.6,240v1.4M243.48,306.5v-1.4M243.48,240v1.4M271.36,306.5v-1.4M271.36,240v1.4M299.24,306.5v-1.4M299.24,240v1.4M327.12,306.5v-1.4M327.12,240v1.4M355,306.5v-1.4M355,240v1.4M215.6,306.5h1.4M355,306.5h-1.4M215.6,284.33h1.4M355,284.33h-1.4M215.6,262.17h1.4M355,262.17h-1.4M215.6,240h1.4M355,240h-1.4" stroke="#8c8c8c" stroke-width="0.8" fill="none"/>
<polygon points="239.3,306.5 239.5,300.9 245.3,300.9 245.5,306.5" fill="#06d5de" stroke="#06d5de" stroke-width="0.5" opacity="1"/>
<polyline points="246,306.5 246.6,262.9 247.2,306.5" fill="none" stroke="#06d5de" stroke-width="1.0" stroke-linejoin="round"/>
<polygon points="249.6,306.5 250.2,245.3 251,262 252,285.8 255.7,285.8 256.2,306.5" fill="#06d5de" stroke="#06d5de" stroke-width="0.5" opacity="1"/>
<polygon points="257.6,306.5 258.9,244.2 260.6,306.5" fill="#06d5de" stroke="#06d5de" stroke-width="0.5" opacity="1"/>
<polygon points="262.6,306.5 263.3,246.2 264.5,270 266.5,306.5" fill="#06d5de" stroke="#06d5de" stroke-width="0.5" opacity="1"/>
<polyline points="268.25,306.5 268.6,265.5 268.95,306.5" fill="none" stroke="#06d5de" stroke-width="1.0" stroke-linejoin="round"/>
<polygon points="319,306.5 319.5,244.9 320.5,265 321.5,284.5 323.6,284.5 324.1,306.5" fill="#06d5de" stroke="#06d5de" stroke-width="0.5" opacity="1"/>
<polygon points="325.2,306.5 326.1,243.6 327.4,306.5" fill="#06d5de" stroke="#06d5de" stroke-width="0.5" opacity="1"/>
<polygon points="328.4,306.5 329.3,249 330.4,306.5" fill="#06d5de" stroke="#06d5de" stroke-width="0.5" opacity="1"/>
<polyline points="331.4,306.5 332,264.7 332.6,306.5" fill="none" stroke="#06d5de" stroke-width="1.0" stroke-linejoin="round"/>
<polygon points="335.9,306.5 336.7,244.9 337.5,270 338.8,306.5" fill="#06d5de" stroke="#06d5de" stroke-width="0.5" opacity="1"/>
<rect x="340.5" y="300.9" width="3.1" height="5.6" fill="#06d5de"/>
<polygon points="257.9,306.5 258.9,249 260.3,306.5" fill="#f2837d" stroke="#f2837d" stroke-width="0.5" opacity="0.45"/>
<polygon points="325.6,306.5 326.1,249 327.1,306.5" fill="#f2837d" stroke="#f2837d" stroke-width="0.5" opacity="0.45"/>
<polygon points="328.6,306.5 329.3,248.5 330.2,306.5" fill="#f2837d" stroke="#f2837d" stroke-width="0.5" opacity="0.55"/>
<polyline points="238.5,283.2 239,299.8 245.1,299.8 245.7,306.5 249.6,306.5 250.1,246 253,279.2 254,282 255,280 256.2,284 256.8,306.5 257.7,306.5 258.9,248.5 260.3,306.5 262.6,306.5 263.3,248 268,306.5 319,306.5 319.5,248 322.2,279.2 323,283 324,280 324.6,306.5 325.4,306.5 326.1,249 327.2,306.5 328.5,306.5 329.3,248.5 330.3,306.5 331.7,306.5 332,290 332.4,306.5 336,306.5 336.7,246 339.3,306.5 339.6,300.3 343.8,300.3 344,306.5" fill="none" stroke="#f2837d" stroke-width="1.1" stroke-linejoin="round" stroke-opacity="0.88"/>
<text x="215.6" y="316.1" class="tl" text-anchor="middle">2.125</text>
<text x="243.48" y="316.1" class="tl" text-anchor="middle">2.13</text>
<text x="271.36" y="316.1" class="tl" text-anchor="middle">2.135</text>
<text x="299.24" y="316.1" class="tl" text-anchor="middle">2.14</text>
<text x="327.12" y="316.1" class="tl" text-anchor="middle">2.145</text>
<text x="355" y="316.1" class="tl" text-anchor="middle">2.15</text>
<text x="285.3" y="325.1" class="lb" text-anchor="middle">Time(s)</text>
<text x="339.7" y="327.3" class="tl" style="font-size:6.5px">×</text>
<text x="344.6" y="327" class="tl">10</text>
<text x="352.3" y="323.8" class="tl" style="font-size:4.6px">5</text>
<text x="285.3" y="236.2" class="tt" text-anchor="middle">BaseID: 15</text>
<text transform="translate(198.3,273.25) rotate(-90)" class="lb" text-anchor="middle">Distance(m)</text>
<path d="M400.4,306.5V240H539.5V306.5M400.4,306.5H423.5M527.9,306.5H539.5" fill="none" stroke="#8c8c8c" stroke-width="1.0" stroke-linecap="square"/>
<path d="M423.5,306.5H527.9" stroke="#f2837d" stroke-opacity="0.5" stroke-width="1.7"/>
<text x="397.6" y="309.3" class="tl" text-anchor="end">0</text>
<text x="397.6" y="296" class="tl" text-anchor="end">50</text>
<text x="397.6" y="282.7" class="tl" text-anchor="end">100</text>
<text x="397.6" y="269.4" class="tl" text-anchor="end">150</text>
<text x="397.6" y="256.1" class="tl" text-anchor="end">200</text>
<text x="397.6" y="242.8" class="tl" text-anchor="end">250</text>
<path d="M400.4,306.5v-1.4M400.4,240v1.4M428.22,306.5v-1.4M428.22,240v1.4M456.04,306.5v-1.4M456.04,240v1.4M483.86,306.5v-1.4M483.86,240v1.4M511.68,306.5v-1.4M511.68,240v1.4M539.5,306.5v-1.4M539.5,240v1.4M400.4,306.5h1.4M539.5,306.5h-1.4M400.4,293.2h1.4M539.5,293.2h-1.4M400.4,279.9h1.4M539.5,279.9h-1.4M400.4,266.6h1.4M539.5,266.6h-1.4M400.4,253.3h1.4M539.5,253.3h-1.4M400.4,240h1.4M539.5,240h-1.4" stroke="#8c8c8c" stroke-width="0.8" fill="none"/>
<polygon points="424.4,306.5 424.6,303.6 428,303.6 428.2,306.5" fill="#06d5de" stroke="#06d5de" stroke-width="0.5" opacity="1"/>
<polyline points="431.3,306.5 431.8,250 432.3,306.5" fill="none" stroke="#06d5de" stroke-width="1.0" stroke-linejoin="round"/>
<polyline points="434.3,306.5 434.8,253.9 435.3,306.5" fill="none" stroke="#06d5de" stroke-width="1.0" stroke-linejoin="round"/>
<polygon points="435.3,306.5 436.6,288.5 440.7,288.5 441.5,306.5" fill="#06d5de" stroke="#06d5de" stroke-width="0.5" opacity="1"/>
<polyline points="443.4,306.5 443.9,260.2 444.4,306.5" fill="none" stroke="#06d5de" stroke-width="1.0" stroke-linejoin="round"/>
<polyline points="447.7,306.5 448.2,264.7 448.7,306.5" fill="none" stroke="#06d5de" stroke-width="1.0" stroke-linejoin="round"/>
<polygon points="450.4,306.5 455.4,249.7 456.2,249.7 456.4,306.5" fill="#06d5de" stroke="#06d5de" stroke-width="0.5" opacity="1"/>
<polygon points="504.6,306.5 505,288.5 508.2,288.5 508.6,306.5" fill="#06d5de" stroke="#06d5de" stroke-width="0.5" opacity="1"/>
<polyline points="510.2,306.5 510.7,260.2 511.2,306.5" fill="none" stroke="#06d5de" stroke-width="1.0" stroke-linejoin="round"/>
<polyline points="512.8,306.5 513.3,265.5 513.8,306.5" fill="none" stroke="#06d5de" stroke-width="1.0" stroke-linejoin="round"/>
<polygon points="513.6,306.5 514,290 516.2,290 516.4,306.5" fill="#06d5de" stroke="#06d5de" stroke-width="0.5" opacity="1"/>
<polygon points="515.4,306.5 518.6,249.7 519.2,249.7 519.6,306.5" fill="#06d5de" stroke="#06d5de" stroke-width="0.5" opacity="1"/>
<polygon points="521,306.5 521.3,252 522.2,270 524,306.5" fill="#06d5de" stroke="#06d5de" stroke-width="0.5" opacity="1"/>
<rect x="524.8" y="304.1" width="2.8" height="2.4" fill="#06d5de"/>
<polyline points="423.3,288 424.8,302.7 428.9,303 429.8,306.5 430.5,306.5 431.8,268.7 432.4,306.5 433.2,306.5 434.8,266.4 436.2,285 437.5,284 438.5,286.5 439.5,284.5 440.5,286 441.2,306.5 442.5,306.5 443.9,266.8 444.5,306.5 447.6,306.5 448.2,268.2 449.5,306.5 450.4,306.5 455.4,250 455.9,306.5 504,306.5 504.3,250 506,282 507,285 508,284 508.6,306.5 509.6,306.5 510.7,272.3 511.4,306.5 513,306.5 513.3,269.5 514.5,306.5 515.4,306.5 518.6,250 519.3,306.5 520.8,306.5 521.2,249.5 524,306.5 524.6,306.5 524.8,303.8 527.7,303.8 527.9,306.5" fill="none" stroke="#f2837d" stroke-width="1.1" stroke-linejoin="round" stroke-opacity="0.88"/>
<text x="400.4" y="316.1" class="tl" text-anchor="middle">2.125</text>
<text x="428.22" y="316.1" class="tl" text-anchor="middle">2.13</text>
<text x="456.04" y="316.1" class="tl" text-anchor="middle">2.135</text>
<text x="483.86" y="316.1" class="tl" text-anchor="middle">2.14</text>
<text x="511.68" y="316.1" class="tl" text-anchor="middle">2.145</text>
<text x="539.5" y="316.1" class="tl" text-anchor="middle">2.15</text>
<text x="469.95" y="325.1" class="lb" text-anchor="middle">Time(s)</text>
<text x="524.2" y="327.3" class="tl" style="font-size:6.5px">×</text>
<text x="529.1" y="327" class="tl">10</text>
<text x="536.8" y="323.8" class="tl" style="font-size:4.6px">5</text>
<text x="469.95" y="236.2" class="tt" text-anchor="middle">BaseID: 16</text>
<text transform="translate(383.1,273.25) rotate(-90)" class="lb" text-anchor="middle">Distance(m)</text>
<rect x="218.5" y="3.3" width="130" height="15" fill="#fff" stroke="#777" stroke-width="0.8"/>
<line x1="220.2" y1="10.9" x2="237.5" y2="10.9" stroke="#86e2e6" stroke-width="1.6"/>
<text x="239.2" y="14.7" class="lg">Origin</text>
<line x1="270.3" y1="10.9" x2="287.7" y2="10.9" stroke="#f9bebb" stroke-width="1.6"/>
<text x="289.7" y="14.7" class="lg">STC Robust</text>
</svg>
</body></html>
